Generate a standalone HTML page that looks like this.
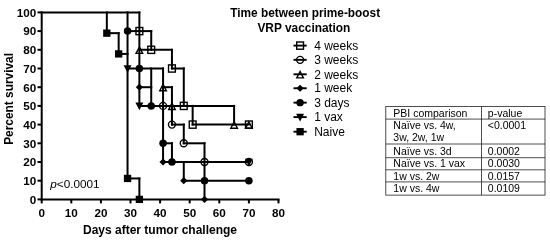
<!DOCTYPE html>
<html><head><meta charset="utf-8"><title>Survival</title>
<style>
html,body{margin:0;padding:0;background:#fff;}
svg{display:block;font-family:"Liberation Sans",Arial,sans-serif;}
</style></head><body>
<svg width="550" height="240" viewBox="0 0 550 240">
<rect width="550" height="240" fill="#fff"/>
<g stroke="#000" stroke-width="2.0" stroke-linecap="square" fill="none">
<line x1="41.7" y1="12.4" x2="139.38" y2="12.4"/>
<line x1="106.82" y1="12.4" x2="106.82" y2="33.16"/>
<line x1="106.82" y1="33.16" x2="118.66" y2="33.16"/>
<line x1="118.66" y1="33.16" x2="118.66" y2="53.91"/>
<line x1="118.66" y1="53.91" x2="127.54" y2="53.91"/>
<line x1="127.54" y1="12.4" x2="127.54" y2="178.46"/>
<line x1="127.54" y1="178.46" x2="139.38" y2="178.46"/>
<line x1="139.38" y1="178.46" x2="139.38" y2="199.4"/>
<line x1="139.38" y1="12.4" x2="139.38" y2="105.9"/>
<line x1="139.38" y1="31.1" x2="151.22" y2="31.1"/>
<line x1="151.22" y1="31.1" x2="151.22" y2="49.8"/>
<line x1="139.38" y1="49.8" x2="171.94" y2="49.8"/>
<line x1="171.94" y1="49.8" x2="171.94" y2="68.5"/>
<line x1="171.94" y1="68.5" x2="183.78" y2="68.5"/>
<line x1="183.78" y1="68.5" x2="183.78" y2="105.9"/>
<line x1="127.54" y1="68.5" x2="163.06" y2="68.5"/>
<line x1="151.22" y1="68.5" x2="151.22" y2="105.9"/>
<line x1="163.06" y1="68.5" x2="163.06" y2="162.0"/>
<line x1="139.38" y1="87.2" x2="151.22" y2="87.2"/>
<line x1="163.06" y1="87.2" x2="171.94" y2="87.2"/>
<line x1="171.94" y1="87.2" x2="171.94" y2="124.6"/>
<line x1="139.38" y1="105.9" x2="234.1" y2="105.9"/>
<line x1="234.1" y1="105.9" x2="234.1" y2="124.6"/>
<line x1="192.66" y1="105.9" x2="192.66" y2="124.6"/>
<line x1="192.66" y1="124.6" x2="248.9" y2="124.6"/>
<line x1="171.94" y1="124.6" x2="183.78" y2="124.6"/>
<line x1="183.78" y1="124.6" x2="183.78" y2="143.3"/>
<line x1="183.78" y1="143.3" x2="204.5" y2="143.3"/>
<line x1="204.5" y1="143.3" x2="204.5" y2="199.4"/>
<line x1="163.06" y1="143.3" x2="171.94" y2="143.3"/>
<line x1="171.94" y1="143.3" x2="171.94" y2="162.0"/>
<line x1="163.06" y1="162.0" x2="248.9" y2="162.0"/>
<line x1="183.78" y1="162.0" x2="183.78" y2="180.7"/>
<line x1="183.78" y1="180.7" x2="248.9" y2="180.7"/>
<line x1="127.54" y1="31.1" x2="139.38" y2="31.1"/>
</g>
<g stroke="#000" stroke-width="2" stroke-linecap="butt">
<line x1="41.7" y1="11.4" x2="41.7" y2="200.4"/>
<line x1="40.7" y1="199.4" x2="279.5" y2="199.4"/>
<line x1="37.5" y1="199.4" x2="41.7" y2="199.4"/>
<line x1="37.5" y1="180.7" x2="41.7" y2="180.7"/>
<line x1="37.5" y1="162.0" x2="41.7" y2="162.0"/>
<line x1="37.5" y1="143.3" x2="41.7" y2="143.3"/>
<line x1="37.5" y1="124.6" x2="41.7" y2="124.6"/>
<line x1="37.5" y1="105.9" x2="41.7" y2="105.9"/>
<line x1="37.5" y1="87.2" x2="41.7" y2="87.2"/>
<line x1="37.5" y1="68.5" x2="41.7" y2="68.5"/>
<line x1="37.5" y1="49.8" x2="41.7" y2="49.8"/>
<line x1="37.5" y1="31.1" x2="41.7" y2="31.1"/>
<line x1="37.5" y1="12.4" x2="41.7" y2="12.4"/>
<line x1="41.7" y1="199.4" x2="41.7" y2="203.4"/>
<line x1="71.3" y1="199.4" x2="71.3" y2="203.4"/>
<line x1="100.9" y1="199.4" x2="100.9" y2="203.4"/>
<line x1="130.5" y1="199.4" x2="130.5" y2="203.4"/>
<line x1="160.1" y1="199.4" x2="160.1" y2="203.4"/>
<line x1="189.7" y1="199.4" x2="189.7" y2="203.4"/>
<line x1="219.3" y1="199.4" x2="219.3" y2="203.4"/>
<line x1="248.9" y1="199.4" x2="248.9" y2="203.4"/>
<line x1="278.5" y1="199.4" x2="278.5" y2="203.4"/>
</g>
<g>
<rect x="103.17" y="29.51" width="7.30" height="7.30" fill="#000"/>
<rect x="115.01" y="50.26" width="7.30" height="7.30" fill="#000"/>
<rect x="123.89" y="174.81" width="7.30" height="7.30" fill="#000"/>
<rect x="135.73" y="195.75" width="7.30" height="7.30" fill="#000"/>
<polygon points="123.54,65.20 131.54,65.20 127.54,72.80" fill="#000"/>
<polygon points="135.38,102.60 143.38,102.60 139.38,110.20" fill="#000"/>
<polygon points="244.90,158.70 252.90,158.70 248.90,166.30" fill="#000"/>
<circle cx="127.54" cy="31.10" r="3.75" fill="#000"/>
<circle cx="139.38" cy="68.50" r="3.75" fill="#000"/>
<circle cx="151.22" cy="105.90" r="3.75" fill="#000"/>
<circle cx="163.06" cy="143.30" r="3.75" fill="#000"/>
<circle cx="171.94" cy="162.00" r="3.75" fill="#000"/>
<circle cx="204.50" cy="180.70" r="3.75" fill="#000"/>
<circle cx="248.90" cy="180.70" r="3.75" fill="#000"/>
<polygon points="135.78,87.20 139.38,83.60 142.98,87.20 139.38,90.80" fill="#000"/>
<polygon points="159.46,162.00 163.06,158.40 166.66,162.00 163.06,165.60" fill="#000"/>
<polygon points="180.18,180.70 183.78,177.10 187.38,180.70 183.78,184.30" fill="#000"/>
<polygon points="200.90,199.40 204.50,195.80 208.10,199.40 204.50,203.00" fill="#000"/>
<circle cx="163.06" cy="105.90" r="3.50" fill="none" stroke="#000" stroke-width="1.4"/>
<circle cx="171.94" cy="124.60" r="3.50" fill="none" stroke="#000" stroke-width="1.4"/>
<circle cx="183.78" cy="143.30" r="3.50" fill="none" stroke="#000" stroke-width="1.4"/>
<circle cx="204.50" cy="162.00" r="3.50" fill="none" stroke="#000" stroke-width="1.4"/>
<circle cx="248.90" cy="162.00" r="3.50" fill="none" stroke="#000" stroke-width="1.4"/>
<polygon points="136.08,53.40 142.68,53.40 139.38,47.00" fill="none" stroke="#000" stroke-width="1.4"/>
<polygon points="159.76,90.80 166.36,90.80 163.06,84.40" fill="none" stroke="#000" stroke-width="1.4"/>
<polygon points="168.64,109.50 175.24,109.50 171.94,103.10" fill="none" stroke="#000" stroke-width="1.4"/>
<polygon points="230.80,128.20 237.40,128.20 234.10,121.80" fill="none" stroke="#000" stroke-width="1.4"/>
<polygon points="245.60,128.20 252.20,128.20 248.90,121.80" fill="none" stroke="#000" stroke-width="1.4"/>
<rect x="135.98" y="27.50" width="6.80" height="7.20" fill="none" stroke="#000" stroke-width="1.4"/>
<rect x="147.82" y="46.20" width="6.80" height="7.20" fill="none" stroke="#000" stroke-width="1.4"/>
<rect x="168.54" y="64.90" width="6.80" height="7.20" fill="none" stroke="#000" stroke-width="1.4"/>
<rect x="180.38" y="102.30" width="6.80" height="7.20" fill="none" stroke="#000" stroke-width="1.4"/>
<rect x="189.26" y="121.00" width="6.80" height="7.20" fill="none" stroke="#000" stroke-width="1.4"/>
<rect x="245.50" y="121.00" width="6.80" height="7.20" fill="none" stroke="#000" stroke-width="1.4"/>
</g>
<g font-size="11.7" font-weight="bold" fill="#000">
<text x="36.2" y="203.75" text-anchor="end">0</text>
<text x="36.2" y="185.04999999999998" text-anchor="end">10</text>
<text x="36.2" y="166.35" text-anchor="end">20</text>
<text x="36.2" y="147.65" text-anchor="end">30</text>
<text x="36.2" y="128.95" text-anchor="end">40</text>
<text x="36.2" y="110.25" text-anchor="end">50</text>
<text x="36.2" y="91.55" text-anchor="end">60</text>
<text x="36.2" y="72.85" text-anchor="end">70</text>
<text x="36.2" y="54.15" text-anchor="end">80</text>
<text x="36.2" y="35.45" text-anchor="end">90</text>
<text x="36.2" y="16.75" text-anchor="end">100</text>
<text x="41.7" y="216.5" text-anchor="middle">0</text>
<text x="71.3" y="216.5" text-anchor="middle">10</text>
<text x="100.9" y="216.5" text-anchor="middle">20</text>
<text x="130.5" y="216.5" text-anchor="middle">30</text>
<text x="160.1" y="216.5" text-anchor="middle">40</text>
<text x="189.7" y="216.5" text-anchor="middle">50</text>
<text x="219.3" y="216.5" text-anchor="middle">60</text>
<text x="248.9" y="216.5" text-anchor="middle">70</text>
<text x="278.5" y="216.5" text-anchor="middle">80</text>
<text x="160" y="234.4" text-anchor="middle" font-size="12">Days after tumor challenge</text>
<text transform="translate(12.8,98.9) rotate(-90)" text-anchor="middle" font-size="11.9">Percent survival</text>
<text x="305.2" y="17.4" text-anchor="middle" font-size="11.85">Time between prime-boost</text>
<text x="303.9" y="31.8" text-anchor="middle" font-size="11.9">VRP vaccination</text>
</g>
<text x="50.3" y="188.3" font-size="11.75" fill="#000"><tspan font-style="italic">p</tspan>&lt;0.0001</text>
<g fill="#000">
<line x1="293.5" y1="45.60" x2="306.7" y2="45.60" stroke="#000" stroke-width="1.9"/>
<rect x="296.70" y="42.00" width="6.8" height="7.2" fill="none" stroke="#000" stroke-width="1.4"/>
<text x="314.2" y="49.80" font-size="12">4 weeks</text>
<line x1="293.5" y1="59.85" x2="306.7" y2="59.85" stroke="#000" stroke-width="1.9"/>
<circle cx="300.10" cy="59.85" r="3.5" fill="none" stroke="#000" stroke-width="1.4"/>
<text x="314.2" y="64.05" font-size="12">3 weeks</text>
<line x1="293.5" y1="74.30" x2="306.7" y2="74.30" stroke="#000" stroke-width="1.9"/>
<polygon points="296.80,77.90 303.40,77.90 300.10,71.50" fill="none" stroke="#000" stroke-width="1.4"/>
<text x="314.2" y="78.50" font-size="12">2 weeks</text>
<line x1="293.5" y1="88.25" x2="306.7" y2="88.25" stroke="#000" stroke-width="1.9"/>
<polygon points="296.50,88.25 300.10,84.65 303.70,88.25 300.10,91.85" fill="#000"/>
<text x="314.2" y="92.45" font-size="12">1 week</text>
<line x1="293.5" y1="102.65" x2="306.7" y2="102.65" stroke="#000" stroke-width="1.9"/>
<circle cx="300.10" cy="102.65" r="3.7" fill="#000"/>
<text x="314.2" y="106.85" font-size="12">3 days</text>
<line x1="293.5" y1="117.10" x2="306.7" y2="117.10" stroke="#000" stroke-width="1.9"/>
<polygon points="296.10,113.80 304.10,113.80 300.10,121.40" fill="#000"/>
<text x="314.2" y="121.30" font-size="12">1 vax</text>
<line x1="293.5" y1="131.70" x2="306.7" y2="131.70" stroke="#000" stroke-width="1.9"/>
<rect x="296.45" y="128.05" width="7.3" height="7.3" fill="#000"/>
<text x="314.2" y="135.90" font-size="12">Naive</text>
</g>
<g stroke="#222" stroke-width="0.8" fill="none">
<rect x="385.8" y="106.4" width="159.2" height="88.69999999999999" fill="none"/>
<line x1="385.8" y1="119.1" x2="545" y2="119.1"/>
<line x1="385.8" y1="144.0" x2="545" y2="144.0"/>
<line x1="385.8" y1="157.7" x2="545" y2="157.7"/>
<line x1="385.8" y1="169.8" x2="545" y2="169.8"/>
<line x1="385.8" y1="181.9" x2="545" y2="181.9"/>
<line x1="481.5" y1="106.4" x2="481.5" y2="195.1"/>
</g>
<g font-size="10.5" fill="#000">
<text x="393.3" y="116.5">PBI comparison</text>
<text x="487.8" y="116.5">p-value</text>
<text x="393.3" y="129.3">Naïve vs. 4w,</text>
<text x="487.8" y="129.3">&lt;0.0001</text>
<text x="393.3" y="141.3">3w, 2w, 1w</text>
<text x="393.3" y="154.6">Naïve vs. 3d</text>
<text x="487.8" y="154.6">0.0002</text>
<text x="393.3" y="167.0">Naïve vs. 1 vax</text>
<text x="487.8" y="167.0">0.0030</text>
<text x="393.3" y="179.7">1w vs. 2w</text>
<text x="487.8" y="179.7">0.0157</text>
<text x="393.3" y="192.3">1w vs. 4w</text>
<text x="487.8" y="192.3">0.0109</text>
</g>
</svg>
</body></html>
